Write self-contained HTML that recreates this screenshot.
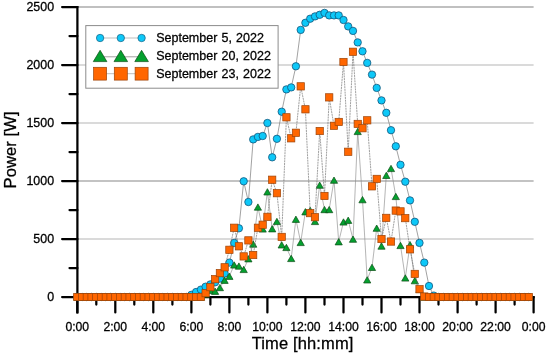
<!DOCTYPE html>
<html><head><meta charset="utf-8"><title>Power chart</title>
<style>
html,body{margin:0;padding:0;background:#fff;}
svg{display:block;}
text{font-family:"Liberation Sans",sans-serif;fill:#000;stroke:#000;stroke-width:0.28px;}
</style></head><body>
<svg width="550" height="354" viewBox="0 0 550 354">
<rect width="550" height="354" fill="#fff"/>
<line x1="78" x2="533.6" y1="239.1" y2="239.1" stroke="#dadada" stroke-width="2"/>
<line x1="78" x2="533.6" y1="181.0" y2="181.0" stroke="#c3c3c3" stroke-width="2"/>
<line x1="78" x2="533.6" y1="123.1" y2="123.1" stroke="#dadada" stroke-width="2"/>
<line x1="78" x2="533.6" y1="65.0" y2="65.0" stroke="#dadada" stroke-width="2"/>
<line x1="78" x2="533.6" y1="7.1" y2="7.1" stroke="#c0c0c0" stroke-width="2"/>
<line x1="77.4" x2="77.4" y1="6" y2="313.4" stroke="#000" stroke-width="2.25"/>
<line x1="76.3" x2="534.7" y1="297" y2="297" stroke="#000" stroke-width="2.25"/>
<line x1="62.1" x2="77.4" y1="297.0" y2="297.0" stroke="#000" stroke-width="2.25" stroke-linecap="round"/>
<text x="54.1" y="301.25" font-size="12.45" text-anchor="end">0</text>
<line x1="69.5" x2="77.4" y1="268.0" y2="268.0" stroke="#000" stroke-width="2.25" stroke-linecap="round"/>
<line x1="62.1" x2="77.4" y1="239.0" y2="239.0" stroke="#000" stroke-width="2.25" stroke-linecap="round"/>
<text x="54.1" y="243.25" font-size="12.45" text-anchor="end">500</text>
<line x1="69.5" x2="77.4" y1="210.0" y2="210.0" stroke="#000" stroke-width="2.25" stroke-linecap="round"/>
<line x1="62.1" x2="77.4" y1="181.0" y2="181.0" stroke="#000" stroke-width="2.25" stroke-linecap="round"/>
<text x="54.1" y="185.25" font-size="12.45" text-anchor="end">1000</text>
<line x1="69.5" x2="77.4" y1="152.0" y2="152.0" stroke="#000" stroke-width="2.25" stroke-linecap="round"/>
<line x1="62.1" x2="77.4" y1="123.0" y2="123.0" stroke="#000" stroke-width="2.25" stroke-linecap="round"/>
<text x="54.1" y="127.25" font-size="12.45" text-anchor="end">1500</text>
<line x1="69.5" x2="77.4" y1="94.0" y2="94.0" stroke="#000" stroke-width="2.25" stroke-linecap="round"/>
<line x1="62.1" x2="77.4" y1="65.0" y2="65.0" stroke="#000" stroke-width="2.25" stroke-linecap="round"/>
<text x="54.1" y="69.25" font-size="12.45" text-anchor="end">2000</text>
<line x1="69.5" x2="77.4" y1="36.0" y2="36.0" stroke="#000" stroke-width="2.25" stroke-linecap="round"/>
<line x1="62.1" x2="77.4" y1="7.0" y2="7.0" stroke="#000" stroke-width="2.25" stroke-linecap="round"/>
<text x="54.1" y="11.25" font-size="12.45" text-anchor="end">2500</text>
<line x1="77.3" x2="77.3" y1="297" y2="312.4" stroke="#000" stroke-width="2.25" stroke-linecap="round"/>
<text x="77.3" y="331.15" font-size="12.2" text-anchor="middle">0:00</text>
<line x1="96.3" x2="96.3" y1="297" y2="304.6" stroke="#000" stroke-width="2.25" stroke-linecap="round"/>
<line x1="115.3" x2="115.3" y1="297" y2="312.4" stroke="#000" stroke-width="2.25" stroke-linecap="round"/>
<text x="115.3" y="331.15" font-size="12.2" text-anchor="middle">2:00</text>
<line x1="134.3" x2="134.3" y1="297" y2="304.6" stroke="#000" stroke-width="2.25" stroke-linecap="round"/>
<line x1="153.3" x2="153.3" y1="297" y2="312.4" stroke="#000" stroke-width="2.25" stroke-linecap="round"/>
<text x="153.3" y="331.15" font-size="12.2" text-anchor="middle">4:00</text>
<line x1="172.4" x2="172.4" y1="297" y2="304.6" stroke="#000" stroke-width="2.25" stroke-linecap="round"/>
<line x1="191.4" x2="191.4" y1="297" y2="312.4" stroke="#000" stroke-width="2.25" stroke-linecap="round"/>
<text x="191.4" y="331.15" font-size="12.2" text-anchor="middle">6:00</text>
<line x1="210.4" x2="210.4" y1="297" y2="304.6" stroke="#000" stroke-width="2.25" stroke-linecap="round"/>
<line x1="229.4" x2="229.4" y1="297" y2="312.4" stroke="#000" stroke-width="2.25" stroke-linecap="round"/>
<text x="229.4" y="331.15" font-size="12.2" text-anchor="middle">8:00</text>
<line x1="248.4" x2="248.4" y1="297" y2="304.6" stroke="#000" stroke-width="2.25" stroke-linecap="round"/>
<line x1="267.4" x2="267.4" y1="297" y2="312.4" stroke="#000" stroke-width="2.25" stroke-linecap="round"/>
<text x="267.4" y="331.15" font-size="12.2" text-anchor="middle">10:00</text>
<line x1="286.4" x2="286.4" y1="297" y2="304.6" stroke="#000" stroke-width="2.25" stroke-linecap="round"/>
<line x1="305.4" x2="305.4" y1="297" y2="312.4" stroke="#000" stroke-width="2.25" stroke-linecap="round"/>
<text x="305.4" y="331.15" font-size="12.2" text-anchor="middle">12:00</text>
<line x1="324.5" x2="324.5" y1="297" y2="304.6" stroke="#000" stroke-width="2.25" stroke-linecap="round"/>
<line x1="343.5" x2="343.5" y1="297" y2="312.4" stroke="#000" stroke-width="2.25" stroke-linecap="round"/>
<text x="343.5" y="331.15" font-size="12.2" text-anchor="middle">14:00</text>
<line x1="362.5" x2="362.5" y1="297" y2="304.6" stroke="#000" stroke-width="2.25" stroke-linecap="round"/>
<line x1="381.5" x2="381.5" y1="297" y2="312.4" stroke="#000" stroke-width="2.25" stroke-linecap="round"/>
<text x="381.5" y="331.15" font-size="12.2" text-anchor="middle">16:00</text>
<line x1="400.5" x2="400.5" y1="297" y2="304.6" stroke="#000" stroke-width="2.25" stroke-linecap="round"/>
<line x1="419.5" x2="419.5" y1="297" y2="312.4" stroke="#000" stroke-width="2.25" stroke-linecap="round"/>
<text x="419.5" y="331.15" font-size="12.2" text-anchor="middle">18:00</text>
<line x1="438.5" x2="438.5" y1="297" y2="304.6" stroke="#000" stroke-width="2.25" stroke-linecap="round"/>
<line x1="457.6" x2="457.6" y1="297" y2="312.4" stroke="#000" stroke-width="2.25" stroke-linecap="round"/>
<text x="457.6" y="331.15" font-size="12.2" text-anchor="middle">20:00</text>
<line x1="476.6" x2="476.6" y1="297" y2="304.6" stroke="#000" stroke-width="2.25" stroke-linecap="round"/>
<line x1="495.6" x2="495.6" y1="297" y2="312.4" stroke="#000" stroke-width="2.25" stroke-linecap="round"/>
<text x="495.6" y="331.15" font-size="12.2" text-anchor="middle">22:00</text>
<line x1="514.6" x2="514.6" y1="297" y2="304.6" stroke="#000" stroke-width="2.25" stroke-linecap="round"/>
<line x1="533.6" x2="533.6" y1="297" y2="312.4" stroke="#000" stroke-width="2.25" stroke-linecap="round"/>
<text x="533.6" y="331.15" font-size="12.2" text-anchor="middle">0:00</text>
<text x="251.7" y="349.1" font-size="16.5" textLength="101.7" lengthAdjust="spacing">Time [hh:mm]</text>
<text transform="translate(15.7,188.4) rotate(-90)" font-size="16.5" textLength="76.9" lengthAdjust="spacing">Power [W]</text>
<polyline points="77.3,297.0 82.1,297.0 86.8,297.0 91.6,297.0 96.3,297.0 101.1,297.0 105.8,297.0 110.6,297.0 115.3,297.0 120.1,297.0 124.8,297.0 129.6,297.0 134.3,297.0 139.1,297.0 143.8,297.0 148.6,297.0 153.3,297.0 158.1,297.0 162.9,297.0 167.6,297.0 172.4,297.0 177.1,297.0 181.9,297.0 186.6,297.0 191.4,294.8 196.1,292.0 200.9,289.6 205.6,286.7 210.4,284.4 215.1,282.3 219.9,278.6 224.6,273.5 229.4,262.6 234.2,242.9 238.9,228.3 243.7,181.3 248.4,202.0 253.2,139.4 257.9,136.9 262.7,136.0 267.4,123.0 272.2,157.3 276.9,138.8 281.7,111.7 286.4,89.4 291.2,87.4 295.9,66.3 300.7,29.9 305.4,22.8 310.2,18.7 315.0,16.4 319.7,14.8 324.5,12.9 329.2,15.4 334.0,15.4 338.7,15.4 343.5,20.0 348.2,26.4 353.0,30.9 357.7,42.4 362.5,51.3 367.2,62.9 372.0,74.6 376.7,87.9 381.5,100.4 386.3,112.8 391.0,130.2 395.8,146.3 400.5,164.8 405.3,181.7 410.0,200.4 414.8,221.8 419.5,242.9 424.3,262.6 429.0,286.0 433.8,295.6 438.5,297.0 443.3,297.0 448.0,297.0 452.8,297.0 457.6,297.0 462.3,297.0 467.1,297.0 471.8,297.0 476.6,297.0 481.3,297.0 486.1,297.0 490.8,297.0 495.6,297.0 500.3,297.0 505.1,297.0 509.8,297.0 514.6,297.0 519.3,297.0 524.1,297.0 528.8,297.0" fill="none" stroke="#7a7a7a" stroke-width="0.7"/>
<g fill="#0dc8f8" stroke="#134f74" stroke-width="0.75">
<circle cx="77.3" cy="297.0" r="3.7"/><circle cx="82.1" cy="297.0" r="3.7"/><circle cx="86.8" cy="297.0" r="3.7"/><circle cx="91.6" cy="297.0" r="3.7"/><circle cx="96.3" cy="297.0" r="3.7"/><circle cx="101.1" cy="297.0" r="3.7"/><circle cx="105.8" cy="297.0" r="3.7"/><circle cx="110.6" cy="297.0" r="3.7"/><circle cx="115.3" cy="297.0" r="3.7"/><circle cx="120.1" cy="297.0" r="3.7"/><circle cx="124.8" cy="297.0" r="3.7"/><circle cx="129.6" cy="297.0" r="3.7"/><circle cx="134.3" cy="297.0" r="3.7"/><circle cx="139.1" cy="297.0" r="3.7"/><circle cx="143.8" cy="297.0" r="3.7"/><circle cx="148.6" cy="297.0" r="3.7"/><circle cx="153.3" cy="297.0" r="3.7"/><circle cx="158.1" cy="297.0" r="3.7"/><circle cx="162.9" cy="297.0" r="3.7"/><circle cx="167.6" cy="297.0" r="3.7"/><circle cx="172.4" cy="297.0" r="3.7"/><circle cx="177.1" cy="297.0" r="3.7"/><circle cx="181.9" cy="297.0" r="3.7"/><circle cx="186.6" cy="297.0" r="3.7"/><circle cx="191.4" cy="294.8" r="3.7"/><circle cx="196.1" cy="292.0" r="3.7"/><circle cx="200.9" cy="289.6" r="3.7"/><circle cx="205.6" cy="286.7" r="3.7"/><circle cx="210.4" cy="284.4" r="3.7"/><circle cx="215.1" cy="282.3" r="3.7"/><circle cx="219.9" cy="278.6" r="3.7"/><circle cx="224.6" cy="273.5" r="3.7"/><circle cx="229.4" cy="262.6" r="3.7"/><circle cx="234.2" cy="242.9" r="3.7"/><circle cx="238.9" cy="228.3" r="3.7"/><circle cx="243.7" cy="181.3" r="3.7"/><circle cx="248.4" cy="202.0" r="3.7"/><circle cx="253.2" cy="139.4" r="3.7"/><circle cx="257.9" cy="136.9" r="3.7"/><circle cx="262.7" cy="136.0" r="3.7"/><circle cx="267.4" cy="123.0" r="3.7"/><circle cx="272.2" cy="157.3" r="3.7"/><circle cx="276.9" cy="138.8" r="3.7"/><circle cx="281.7" cy="111.7" r="3.7"/><circle cx="286.4" cy="89.4" r="3.7"/><circle cx="291.2" cy="87.4" r="3.7"/><circle cx="295.9" cy="66.3" r="3.7"/><circle cx="300.7" cy="29.9" r="3.7"/><circle cx="305.4" cy="22.8" r="3.7"/><circle cx="310.2" cy="18.7" r="3.7"/><circle cx="315.0" cy="16.4" r="3.7"/><circle cx="319.7" cy="14.8" r="3.7"/><circle cx="324.5" cy="12.9" r="3.7"/><circle cx="329.2" cy="15.4" r="3.7"/><circle cx="334.0" cy="15.4" r="3.7"/><circle cx="338.7" cy="15.4" r="3.7"/><circle cx="343.5" cy="20.0" r="3.7"/><circle cx="348.2" cy="26.4" r="3.7"/><circle cx="353.0" cy="30.9" r="3.7"/><circle cx="357.7" cy="42.4" r="3.7"/><circle cx="362.5" cy="51.3" r="3.7"/><circle cx="367.2" cy="62.9" r="3.7"/><circle cx="372.0" cy="74.6" r="3.7"/><circle cx="376.7" cy="87.9" r="3.7"/><circle cx="381.5" cy="100.4" r="3.7"/><circle cx="386.3" cy="112.8" r="3.7"/><circle cx="391.0" cy="130.2" r="3.7"/><circle cx="395.8" cy="146.3" r="3.7"/><circle cx="400.5" cy="164.8" r="3.7"/><circle cx="405.3" cy="181.7" r="3.7"/><circle cx="410.0" cy="200.4" r="3.7"/><circle cx="414.8" cy="221.8" r="3.7"/><circle cx="419.5" cy="242.9" r="3.7"/><circle cx="424.3" cy="262.6" r="3.7"/><circle cx="429.0" cy="286.0" r="3.7"/><circle cx="433.8" cy="295.6" r="3.7"/><circle cx="438.5" cy="297.0" r="3.7"/><circle cx="443.3" cy="297.0" r="3.7"/><circle cx="448.0" cy="297.0" r="3.7"/><circle cx="452.8" cy="297.0" r="3.7"/><circle cx="457.6" cy="297.0" r="3.7"/><circle cx="462.3" cy="297.0" r="3.7"/><circle cx="467.1" cy="297.0" r="3.7"/><circle cx="471.8" cy="297.0" r="3.7"/><circle cx="476.6" cy="297.0" r="3.7"/><circle cx="481.3" cy="297.0" r="3.7"/><circle cx="486.1" cy="297.0" r="3.7"/><circle cx="490.8" cy="297.0" r="3.7"/><circle cx="495.6" cy="297.0" r="3.7"/><circle cx="500.3" cy="297.0" r="3.7"/><circle cx="505.1" cy="297.0" r="3.7"/><circle cx="509.8" cy="297.0" r="3.7"/><circle cx="514.6" cy="297.0" r="3.7"/><circle cx="519.3" cy="297.0" r="3.7"/><circle cx="524.1" cy="297.0" r="3.7"/><circle cx="528.8" cy="297.0" r="3.7"/>
</g>
<polyline points="77.3,297.0 82.1,297.0 86.8,297.0 91.6,297.0 96.3,297.0 101.1,297.0 105.8,297.0 110.6,297.0 115.3,297.0 120.1,297.0 124.8,297.0 129.6,297.0 134.3,297.0 139.1,297.0 143.8,297.0 148.6,297.0 153.3,297.0 158.1,297.0 162.9,297.0 167.6,297.0 172.4,297.0 177.1,297.0 181.9,297.0 186.6,297.0 191.4,297.0 196.1,297.0 200.9,297.0 205.6,294.1 210.4,290.4 215.1,291.2 219.9,287.5 224.6,280.2 229.4,276.2 234.2,264.9 238.9,266.0 243.7,269.4 248.4,258.7 253.2,244.0 257.9,207.0 262.7,228.9 267.4,191.8 272.2,228.7 276.9,221.4 281.7,244.8 286.4,247.4 291.2,258.4 295.9,219.2 300.7,242.4 305.4,211.7 310.2,210.3 315.0,221.4 319.7,185.1 324.5,209.5 329.2,209.5 334.0,180.1 338.7,241.7 343.5,221.9 348.2,220.2 353.0,239.1 357.7,131.4 362.5,199.6 367.2,279.8 372.0,267.3 376.7,228.1 381.5,246.0 386.3,175.3 391.0,168.4 395.8,196.4 400.5,245.4 405.3,277.9 410.0,244.6 414.8,280.6 419.5,289.2 424.3,297.0 429.0,297.0 433.8,297.0 438.5,297.0 443.3,297.0 448.0,297.0 452.8,297.0 457.6,297.0 462.3,297.0 467.1,297.0 471.8,297.0 476.6,297.0 481.3,297.0 486.1,297.0 490.8,297.0 495.6,297.0 500.3,297.0 505.1,297.0 509.8,297.0 514.6,297.0 519.3,297.0 524.1,297.0 528.8,297.0" fill="none" stroke="#8c8c8c" stroke-width="0.65"/>
<g fill="#04a02f" stroke="#0b4d16" stroke-width="0.7">
<path d="M77.3 293.9L80.9 300.2L73.7 300.2Z"/><path d="M82.1 293.9L85.7 300.2L78.5 300.2Z"/><path d="M86.8 293.9L90.4 300.2L83.2 300.2Z"/><path d="M91.6 293.9L95.2 300.2L88.0 300.2Z"/><path d="M96.3 293.9L99.9 300.2L92.7 300.2Z"/><path d="M101.1 293.9L104.7 300.2L97.5 300.2Z"/><path d="M105.8 293.9L109.4 300.2L102.2 300.2Z"/><path d="M110.6 293.9L114.2 300.2L107.0 300.2Z"/><path d="M115.3 293.9L118.9 300.2L111.7 300.2Z"/><path d="M120.1 293.9L123.7 300.2L116.5 300.2Z"/><path d="M124.8 293.9L128.4 300.2L121.2 300.2Z"/><path d="M129.6 293.9L133.2 300.2L126.0 300.2Z"/><path d="M134.3 293.9L137.9 300.2L130.7 300.2Z"/><path d="M139.1 293.9L142.7 300.2L135.5 300.2Z"/><path d="M143.8 293.9L147.4 300.2L140.2 300.2Z"/><path d="M148.6 293.9L152.2 300.2L145.0 300.2Z"/><path d="M153.3 293.9L156.9 300.2L149.8 300.2Z"/><path d="M158.1 293.9L161.7 300.2L154.5 300.2Z"/><path d="M162.9 293.9L166.5 300.2L159.3 300.2Z"/><path d="M167.6 293.9L171.2 300.2L164.0 300.2Z"/><path d="M172.4 293.9L176.0 300.2L168.8 300.2Z"/><path d="M177.1 293.9L180.7 300.2L173.5 300.2Z"/><path d="M181.9 293.9L185.5 300.2L178.3 300.2Z"/><path d="M186.6 293.9L190.2 300.2L183.0 300.2Z"/><path d="M191.4 293.9L195.0 300.2L187.8 300.2Z"/><path d="M196.1 293.9L199.7 300.2L192.5 300.2Z"/><path d="M200.9 293.9L204.5 300.2L197.3 300.2Z"/><path d="M205.6 291.0L209.2 297.3L202.0 297.3Z"/><path d="M210.4 287.3L214.0 293.6L206.8 293.6Z"/><path d="M215.1 288.1L218.7 294.4L211.5 294.4Z"/><path d="M219.9 284.4L223.5 290.7L216.3 290.7Z"/><path d="M224.6 277.1L228.2 283.4L221.0 283.4Z"/><path d="M229.4 273.1L233.0 279.4L225.8 279.4Z"/><path d="M234.2 261.8L237.8 268.1L230.6 268.1Z"/><path d="M238.9 262.9L242.5 269.2L235.3 269.2Z"/><path d="M243.7 266.3L247.3 272.6L240.1 272.6Z"/><path d="M248.4 255.6L252.0 261.9L244.8 261.9Z"/><path d="M253.2 240.9L256.8 247.2L249.6 247.2Z"/><path d="M257.9 203.9L261.5 210.2L254.3 210.2Z"/><path d="M262.7 225.8L266.3 232.1L259.1 232.1Z"/><path d="M267.4 188.7L271.0 195.0L263.8 195.0Z"/><path d="M272.2 225.6L275.8 231.9L268.6 231.9Z"/><path d="M276.9 218.3L280.5 224.6L273.3 224.6Z"/><path d="M281.7 241.7L285.3 248.0L278.1 248.0Z"/><path d="M286.4 244.3L290.0 250.6L282.8 250.6Z"/><path d="M291.2 255.3L294.8 261.6L287.6 261.6Z"/><path d="M295.9 216.1L299.5 222.4L292.3 222.4Z"/><path d="M300.7 239.3L304.3 245.6L297.1 245.6Z"/><path d="M305.4 208.6L309.1 214.9L301.8 214.9Z"/><path d="M310.2 207.2L313.8 213.5L306.6 213.5Z"/><path d="M315.0 218.3L318.6 224.6L311.4 224.6Z"/><path d="M319.7 182.0L323.3 188.3L316.1 188.3Z"/><path d="M324.5 206.4L328.1 212.7L320.9 212.7Z"/><path d="M329.2 206.4L332.8 212.7L325.6 212.7Z"/><path d="M334.0 177.0L337.6 183.3L330.4 183.3Z"/><path d="M338.7 238.6L342.3 244.9L335.1 244.9Z"/><path d="M343.5 218.8L347.1 225.1L339.9 225.1Z"/><path d="M348.2 217.1L351.8 223.4L344.6 223.4Z"/><path d="M353.0 236.0L356.6 242.3L349.4 242.3Z"/><path d="M357.7 128.3L361.3 134.6L354.1 134.6Z"/><path d="M362.5 196.5L366.1 202.8L358.9 202.8Z"/><path d="M367.2 276.7L370.8 283.0L363.6 283.0Z"/><path d="M372.0 264.2L375.6 270.5L368.4 270.5Z"/><path d="M376.7 225.0L380.3 231.3L373.1 231.3Z"/><path d="M381.5 242.9L385.1 249.2L377.9 249.2Z"/><path d="M386.3 172.2L389.9 178.5L382.7 178.5Z"/><path d="M391.0 165.3L394.6 171.6L387.4 171.6Z"/><path d="M395.8 193.3L399.4 199.6L392.2 199.6Z"/><path d="M400.5 242.3L404.1 248.6L396.9 248.6Z"/><path d="M405.3 274.8L408.9 281.1L401.7 281.1Z"/><path d="M410.0 241.5L413.6 247.8L406.4 247.8Z"/><path d="M414.8 277.5L418.4 283.8L411.2 283.8Z"/><path d="M419.5 286.1L423.1 292.4L415.9 292.4Z"/><path d="M424.3 293.9L427.9 300.2L420.7 300.2Z"/><path d="M429.0 293.9L432.6 300.2L425.4 300.2Z"/><path d="M433.8 293.9L437.4 300.2L430.2 300.2Z"/><path d="M438.5 293.9L442.1 300.2L434.9 300.2Z"/><path d="M443.3 293.9L446.9 300.2L439.7 300.2Z"/><path d="M448.0 293.9L451.6 300.2L444.4 300.2Z"/><path d="M452.8 293.9L456.4 300.2L449.2 300.2Z"/><path d="M457.6 293.9L461.2 300.2L453.9 300.2Z"/><path d="M462.3 293.9L465.9 300.2L458.7 300.2Z"/><path d="M467.1 293.9L470.7 300.2L463.5 300.2Z"/><path d="M471.8 293.9L475.4 300.2L468.2 300.2Z"/><path d="M476.6 293.9L480.2 300.2L473.0 300.2Z"/><path d="M481.3 293.9L484.9 300.2L477.7 300.2Z"/><path d="M486.1 293.9L489.7 300.2L482.5 300.2Z"/><path d="M490.8 293.9L494.4 300.2L487.2 300.2Z"/><path d="M495.6 293.9L499.2 300.2L492.0 300.2Z"/><path d="M500.3 293.9L503.9 300.2L496.7 300.2Z"/><path d="M505.1 293.9L508.7 300.2L501.5 300.2Z"/><path d="M509.8 293.9L513.4 300.2L506.2 300.2Z"/><path d="M514.6 293.9L518.2 300.2L511.0 300.2Z"/><path d="M519.3 293.9L522.9 300.2L515.7 300.2Z"/><path d="M524.1 293.9L527.7 300.2L520.5 300.2Z"/><path d="M528.8 293.9L532.4 300.2L525.2 300.2Z"/>
</g>
<polyline points="77.3,297.0 82.1,297.0 86.8,297.0 91.6,297.0 96.3,297.0 101.1,297.0 105.8,297.0 110.6,297.0 115.3,297.0 120.1,297.0 124.8,297.0 129.6,297.0 134.3,297.0 139.1,297.0 143.8,297.0 148.6,297.0 153.3,297.0 158.1,297.0 162.9,297.0 167.6,297.0 172.4,297.0 177.1,297.0 181.9,297.0 186.6,297.0 191.4,297.0 196.1,297.0 200.9,297.0 205.6,293.2 210.4,287.1 215.1,279.1 219.9,273.1 224.6,267.3 229.4,249.8 234.2,227.7 238.9,246.3 243.7,256.4 248.4,240.4 253.2,255.0 257.9,227.7 262.7,224.7 267.4,216.8 272.2,179.7 276.9,193.2 281.7,236.9 286.4,117.3 291.2,138.3 295.9,132.7 300.7,86.3 305.4,109.3 310.2,213.1 315.0,217.2 319.7,131.0 324.5,196.0 329.2,97.4 334.0,125.8 338.7,122.0 343.5,62.0 348.2,151.8 353.0,51.8 357.7,123.9 362.5,128.2 367.2,120.3 372.0,186.3 376.7,178.9 381.5,239.0 386.3,217.9 391.0,241.6 395.8,210.6 400.5,211.4 405.3,218.1 410.0,249.3 414.8,273.9 419.5,289.2 424.3,296.5 429.0,297.0 433.8,297.0 438.5,297.0 443.3,297.0 448.0,297.0 452.8,297.0 457.6,297.0 462.3,297.0 467.1,297.0 471.8,297.0 476.6,297.0 481.3,297.0 486.1,297.0 490.8,297.0 495.6,297.0 500.3,297.0 505.1,297.0 509.8,297.0 514.6,297.0 519.3,297.0 524.1,297.0 528.8,297.0" fill="none" stroke="#6c6c6c" stroke-width="0.65" stroke-dasharray="2 0.7"/>
<g fill="#ff6600" stroke="#9c4308" stroke-width="0.7">
<rect x="73.65" y="293.35" width="7.3" height="7.3"/><rect x="78.40" y="293.35" width="7.3" height="7.3"/><rect x="83.16" y="293.35" width="7.3" height="7.3"/><rect x="87.91" y="293.35" width="7.3" height="7.3"/><rect x="92.66" y="293.35" width="7.3" height="7.3"/><rect x="97.42" y="293.35" width="7.3" height="7.3"/><rect x="102.17" y="293.35" width="7.3" height="7.3"/><rect x="106.92" y="293.35" width="7.3" height="7.3"/><rect x="111.67" y="293.35" width="7.3" height="7.3"/><rect x="116.43" y="293.35" width="7.3" height="7.3"/><rect x="121.18" y="293.35" width="7.3" height="7.3"/><rect x="125.93" y="293.35" width="7.3" height="7.3"/><rect x="130.69" y="293.35" width="7.3" height="7.3"/><rect x="135.44" y="293.35" width="7.3" height="7.3"/><rect x="140.19" y="293.35" width="7.3" height="7.3"/><rect x="144.95" y="293.35" width="7.3" height="7.3"/><rect x="149.70" y="293.35" width="7.3" height="7.3"/><rect x="154.45" y="293.35" width="7.3" height="7.3"/><rect x="159.21" y="293.35" width="7.3" height="7.3"/><rect x="163.96" y="293.35" width="7.3" height="7.3"/><rect x="168.71" y="293.35" width="7.3" height="7.3"/><rect x="173.47" y="293.35" width="7.3" height="7.3"/><rect x="178.22" y="293.35" width="7.3" height="7.3"/><rect x="182.97" y="293.35" width="7.3" height="7.3"/><rect x="187.72" y="293.35" width="7.3" height="7.3"/><rect x="192.48" y="293.35" width="7.3" height="7.3"/><rect x="197.23" y="293.35" width="7.3" height="7.3"/><rect x="201.98" y="289.52" width="7.3" height="7.3"/><rect x="206.74" y="283.49" width="7.3" height="7.3"/><rect x="211.49" y="275.49" width="7.3" height="7.3"/><rect x="216.24" y="269.46" width="7.3" height="7.3"/><rect x="221.00" y="263.66" width="7.3" height="7.3"/><rect x="225.75" y="246.14" width="7.3" height="7.3"/><rect x="230.50" y="224.10" width="7.3" height="7.3"/><rect x="235.26" y="242.66" width="7.3" height="7.3"/><rect x="240.01" y="252.75" width="7.3" height="7.3"/><rect x="244.76" y="236.74" width="7.3" height="7.3"/><rect x="249.52" y="251.36" width="7.3" height="7.3"/><rect x="254.27" y="224.10" width="7.3" height="7.3"/><rect x="259.02" y="221.08" width="7.3" height="7.3"/><rect x="263.78" y="213.20" width="7.3" height="7.3"/><rect x="268.53" y="176.08" width="7.3" height="7.3"/><rect x="273.28" y="189.53" width="7.3" height="7.3"/><rect x="278.03" y="233.26" width="7.3" height="7.3"/><rect x="282.79" y="113.67" width="7.3" height="7.3"/><rect x="287.54" y="134.66" width="7.3" height="7.3"/><rect x="292.29" y="129.10" width="7.3" height="7.3"/><rect x="297.05" y="82.70" width="7.3" height="7.3"/><rect x="301.80" y="105.66" width="7.3" height="7.3"/><rect x="306.55" y="209.48" width="7.3" height="7.3"/><rect x="311.31" y="213.54" width="7.3" height="7.3"/><rect x="316.06" y="127.36" width="7.3" height="7.3"/><rect x="320.81" y="192.32" width="7.3" height="7.3"/><rect x="325.57" y="93.72" width="7.3" height="7.3"/><rect x="330.32" y="122.14" width="7.3" height="7.3"/><rect x="335.07" y="118.31" width="7.3" height="7.3"/><rect x="339.83" y="58.34" width="7.3" height="7.3"/><rect x="344.58" y="148.12" width="7.3" height="7.3"/><rect x="349.33" y="48.13" width="7.3" height="7.3"/><rect x="354.08" y="120.28" width="7.3" height="7.3"/><rect x="358.84" y="124.57" width="7.3" height="7.3"/><rect x="363.59" y="116.68" width="7.3" height="7.3"/><rect x="368.34" y="182.69" width="7.3" height="7.3"/><rect x="373.10" y="175.26" width="7.3" height="7.3"/><rect x="377.85" y="235.35" width="7.3" height="7.3"/><rect x="382.60" y="214.24" width="7.3" height="7.3"/><rect x="387.36" y="237.90" width="7.3" height="7.3"/><rect x="392.11" y="206.93" width="7.3" height="7.3"/><rect x="396.86" y="207.74" width="7.3" height="7.3"/><rect x="401.62" y="214.47" width="7.3" height="7.3"/><rect x="406.37" y="245.68" width="7.3" height="7.3"/><rect x="411.12" y="270.27" width="7.3" height="7.3"/><rect x="415.88" y="285.58" width="7.3" height="7.3"/><rect x="420.63" y="292.89" width="7.3" height="7.3"/><rect x="425.38" y="293.35" width="7.3" height="7.3"/><rect x="430.13" y="293.35" width="7.3" height="7.3"/><rect x="434.89" y="293.35" width="7.3" height="7.3"/><rect x="439.64" y="293.35" width="7.3" height="7.3"/><rect x="444.39" y="293.35" width="7.3" height="7.3"/><rect x="449.15" y="293.35" width="7.3" height="7.3"/><rect x="453.90" y="293.35" width="7.3" height="7.3"/><rect x="458.65" y="293.35" width="7.3" height="7.3"/><rect x="463.41" y="293.35" width="7.3" height="7.3"/><rect x="468.16" y="293.35" width="7.3" height="7.3"/><rect x="472.91" y="293.35" width="7.3" height="7.3"/><rect x="477.67" y="293.35" width="7.3" height="7.3"/><rect x="482.42" y="293.35" width="7.3" height="7.3"/><rect x="487.17" y="293.35" width="7.3" height="7.3"/><rect x="491.93" y="293.35" width="7.3" height="7.3"/><rect x="496.68" y="293.35" width="7.3" height="7.3"/><rect x="501.43" y="293.35" width="7.3" height="7.3"/><rect x="506.18" y="293.35" width="7.3" height="7.3"/><rect x="510.94" y="293.35" width="7.3" height="7.3"/><rect x="515.69" y="293.35" width="7.3" height="7.3"/><rect x="520.44" y="293.35" width="7.3" height="7.3"/><rect x="525.20" y="293.35" width="7.3" height="7.3"/>
</g>
<rect x="85.8" y="25.6" width="192.3" height="62.6" fill="#fff" stroke="#8c8c8c" stroke-width="1"/>
<line x1="100.1" x2="141.6" y1="38" y2="38" stroke="#bdbdbd" stroke-width="1"/>
<line x1="100.1" x2="141.6" y1="56.8" y2="56.8" stroke="#a0a0a0" stroke-width="1"/>
<line x1="100.1" x2="141.6" y1="73.7" y2="73.7" stroke="#bdbdbd" stroke-width="1"/>
<circle cx="100.1" cy="38" r="3.7" fill="#0dc8f8" stroke="#1a5f80" stroke-width="0.7"/><path d="M100.1 50.3L106.89999999999999 61.6L93.3 61.6Z" fill="#04a02f" stroke="#0b4d16" stroke-width="0.7"/><rect x="93.6" y="67.3" width="13" height="12.8" fill="#ff6600" stroke="#9c4308" stroke-width="0.7"/>
<circle cx="120.8" cy="38" r="3.7" fill="#0dc8f8" stroke="#1a5f80" stroke-width="0.7"/><path d="M120.8 50.3L127.6 61.6L114.0 61.6Z" fill="#04a02f" stroke="#0b4d16" stroke-width="0.7"/><rect x="114.3" y="67.3" width="13" height="12.8" fill="#ff6600" stroke="#9c4308" stroke-width="0.7"/>
<circle cx="141.6" cy="38" r="3.7" fill="#0dc8f8" stroke="#1a5f80" stroke-width="0.7"/><path d="M141.6 50.3L148.4 61.6L134.79999999999998 61.6Z" fill="#04a02f" stroke="#0b4d16" stroke-width="0.7"/><rect x="135.1" y="67.3" width="13" height="12.8" fill="#ff6600" stroke="#9c4308" stroke-width="0.7"/>
<text x="156.2" y="42.4" font-size="12.5" word-spacing="0.7">September 5, 2022</text>
<text x="156.2" y="60.2" font-size="12.5" word-spacing="0.7">September 20, 2022</text>
<text x="156.2" y="78.0" font-size="12.5" word-spacing="0.7">September 23, 2022</text>
</svg>
</body></html>
